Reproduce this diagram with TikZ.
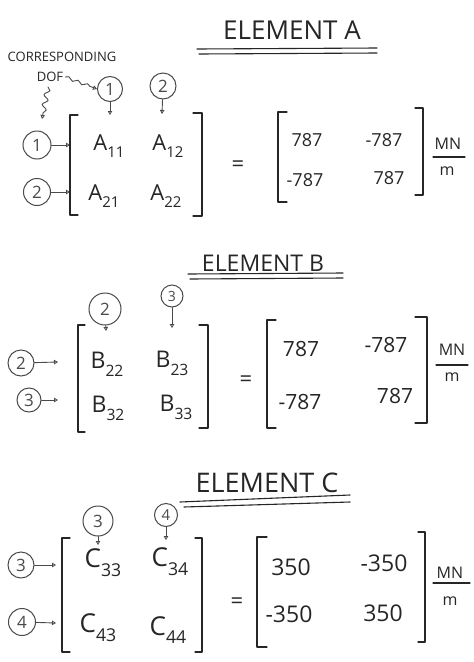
\documentclass[tikz,border=0pt]{standalone}
\usepackage{fontspec}
\setmainfont{Open Sans}
\usetikzlibrary{arrows.meta,decorations.pathmorphing}
\definecolor{ink}{HTML}{262626}
\definecolor{lead}{HTML}{4A4A4A}
\newcommand\sbs[1]{\raisebox{-0.34em}{\scalebox{0.68}{#1}}}
\begin{document}
\begin{tikzpicture}[x=1pt,y=-1pt,
 pen/.style={draw=ink,line width=1.1pt,line cap=round,line join=round},
 arr/.style={draw=lead,line width=0.9pt,line cap=round,-{Triangle[open,length=4pt,width=4.5pt]}},
 squig/.style={arr,decorate,decoration={snake,amplitude=#1,segment length=10pt,post length=4pt}},
 dof/.style={circle,draw=lead,line width=1pt,inner sep=0pt,text=lead,font=\fontsize{17}{17}\selectfont},
 txt/.style={text=ink,inner sep=0pt},
 ttl/.style={txt,font=\fontsize{#1}{#1}\selectfont},
 ]
\fill[white] (0,0) rectangle (474,662);
\useasboundingbox (0,0) rectangle (474,662);

% ================= ELEMENT A =================
\node[ttl=26] (tA) at (292,30) {ELEMENT A};
\draw[pen] (197,49) -- (377,48);
\draw[pen] (199,54) -- (377,53);

\node[ttl=13] (corr) at (62,57) {CORRESPONDING};
\node[ttl=13] (dof) at (50,77) {DOF};

\node[dof,minimum size=25pt] (ta1) at (110,89) {1};
\node[dof,minimum size=26pt] (ta2) at (163,86) {2};
\coordinate (ta1e) at (110,115);
\coordinate (ta2e) at (162,114);
\draw[arr] (ta1) -- (ta1e);
\draw[arr] (ta2) -- (ta2e);

\draw[squig=1.5pt] ([xshift=2pt]dof.east) -- (ta1.west);
\coordinate (dofs) at (48,87);
\coordinate (dofe) at (42,119);
\draw[squig=2.5pt] (dofs) -- (dofe);

\node[dof,minimum size=28pt] (la1) at (37,145) {1};
\node[dof,minimum size=27pt] (la2) at (37,192) {2};
\coordinate (la1e) at (70,145);
\coordinate (la2e) at (70,192);
\draw[arr] (la1) -- (la1e);
\draw[arr] (la2) -- (la2e);

\draw[pen] (78,115) -- (70,115) -- (70,215) -- (78,215);
\draw[pen] (193,113) -- (202,113) -- (202,216) -- (193,216);
\node[ttl=22] (a11) at (109,146) {A\sbs{11}};
\node[ttl=22] (a12) at (168,146) {A\sbs{12}};
\node[ttl=22] (a21) at (104,196) {A\sbs{21}};
\node[ttl=22] (a22) at (166,196) {A\sbs{22}};

\node[ttl=22] (eqA) at (238,166) {=};

\draw[pen] (287,112) -- (278,112) -- (278,202) -- (287,202);
\draw[pen] (415,108) -- (423,108) -- (423,195) -- (415,195);
\node[ttl=18] (ka11) at (307,140) {787};
\node[ttl=18] (ka12) at (384,140) {-787};
\node[ttl=18] (ka21) at (305,180) {-787};
\node[ttl=18] (ka22) at (389,178) {787};

\node[ttl=16] (uA) at (448,144) {MN};
\draw[pen] (433,157) -- (465,157);
\node[ttl=16] (mA) at (447,171) {m};

% ================= ELEMENT B =================
\node[ttl=23] (tB) at (263,263) {ELEMENT B};
\draw[pen] (188,274) -- (343,273);
\draw[pen] (190,279) -- (343,278);

\node[dof,minimum size=32pt] (tb2) at (105,309) {2};
\node[dof,minimum size=22pt,font=\fontsize{14}{14}\selectfont] (tb3) at (172,296) {3};
\coordinate (tb2e) at (106,331);
\coordinate (tb3e) at (172,328);
\draw[arr] (tb2) -- (tb2e);
\draw[arr] (tb3) -- (tb3e);

\node[dof,minimum size=26pt] (lb2) at (21,363) {2};
\node[dof,minimum size=24pt] (lb3) at (29,400) {3};
\coordinate (lb2e) at (58,362);
\coordinate (lb3e) at (58,400);
\draw[arr] (lb2) -- (lb2e);
\draw[arr] (lb3) -- (lb3e);

\draw[pen] (85,325) -- (78,325) -- (78,432) -- (85,432);
\draw[pen] (199,325) -- (208,325) -- (208,428) -- (199,428);
\node[ttl=23] (b22) at (107,364) {B\sbs{22}};
\node[ttl=23] (b23) at (172,363) {B\sbs{23}};
\node[ttl=23] (b32) at (108,408) {B\sbs{32}};
\node[ttl=23] (b33) at (176,407) {B\sbs{33}};

\node[ttl=22] (eqB) at (246,381) {=};

\draw[pen] (276,320) -- (267,320) -- (267,428) -- (276,428);
\draw[pen] (415,317) -- (427,317) -- (427,423) -- (415,423);
\node[ttl=21] (kb11) at (301,349) {787};
\node[ttl=21] (kb12) at (386,345) {-787};
\node[ttl=21] (kb21) at (300,402) {-787};
\node[ttl=21] (kb22) at (395,396) {787};

\node[ttl=16] (uB) at (452,350) {MN};
\draw[pen] (436,365) -- (468,365);
\node[ttl=16] (mB) at (452,377) {m};

% ================= ELEMENT C =================
\node[ttl=27] (tC) at (267,483) {ELEMENT C};
\draw[pen] (180,502) -- (350,495);
\draw[pen] (184,507) -- (350,502);

\node[dof,minimum size=30pt] (tc3) at (98,521) {3};
\node[dof,minimum size=23pt,font=\fontsize{15}{15}\selectfont] (tc4) at (166,515) {4};
\coordinate (tc3e) at (98,545);
\coordinate (tc4e) at (166,540);
\draw[arr] (tc3) -- (tc3e);
\draw[arr] (tc4) -- (tc4e);

\node[dof,minimum size=26pt] (lc3) at (21,565) {3};
\node[dof,minimum size=27pt] (lc4) at (22,622) {4};
\coordinate (lc3e) at (56,565);
\coordinate (lc4e) at (56,623);
\draw[arr] (lc3) -- (lc3e);
\draw[arr] (lc4) -- (lc4e);

\draw[pen] (70,538) -- (62,538) -- (62,652) -- (70,652);
\draw[pen] (195,538) -- (202,538) -- (202,652) -- (195,652);
\node[ttl=26] (c33) at (103,563) {C\sbs{33}};
\node[ttl=26] (c34) at (170,562) {C\sbs{34}};
\node[ttl=26] (c43) at (98,628) {C\sbs{43}};
\node[ttl=26] (c44) at (168,630) {C\sbs{44}};

\node[ttl=22] (eqC) at (237,603) {=};

\draw[pen] (267,537) -- (257,537) -- (257,647) -- (267,647);
\draw[pen] (418,532) -- (425,532) -- (425,642) -- (418,642);
\node[ttl=23] (kc11) at (291,567) {350};
\node[ttl=23] (kc12) at (384,563) {-350};
\node[ttl=23] (kc21) at (289,614) {-350};
\node[ttl=23] (kc22) at (383,613) {350};

\node[ttl=16] (uC) at (450,573) {MN};
\draw[pen] (433,583) -- (470,583);
\node[ttl=16] (mC) at (450,601) {m};
\end{tikzpicture}
\end{document}
